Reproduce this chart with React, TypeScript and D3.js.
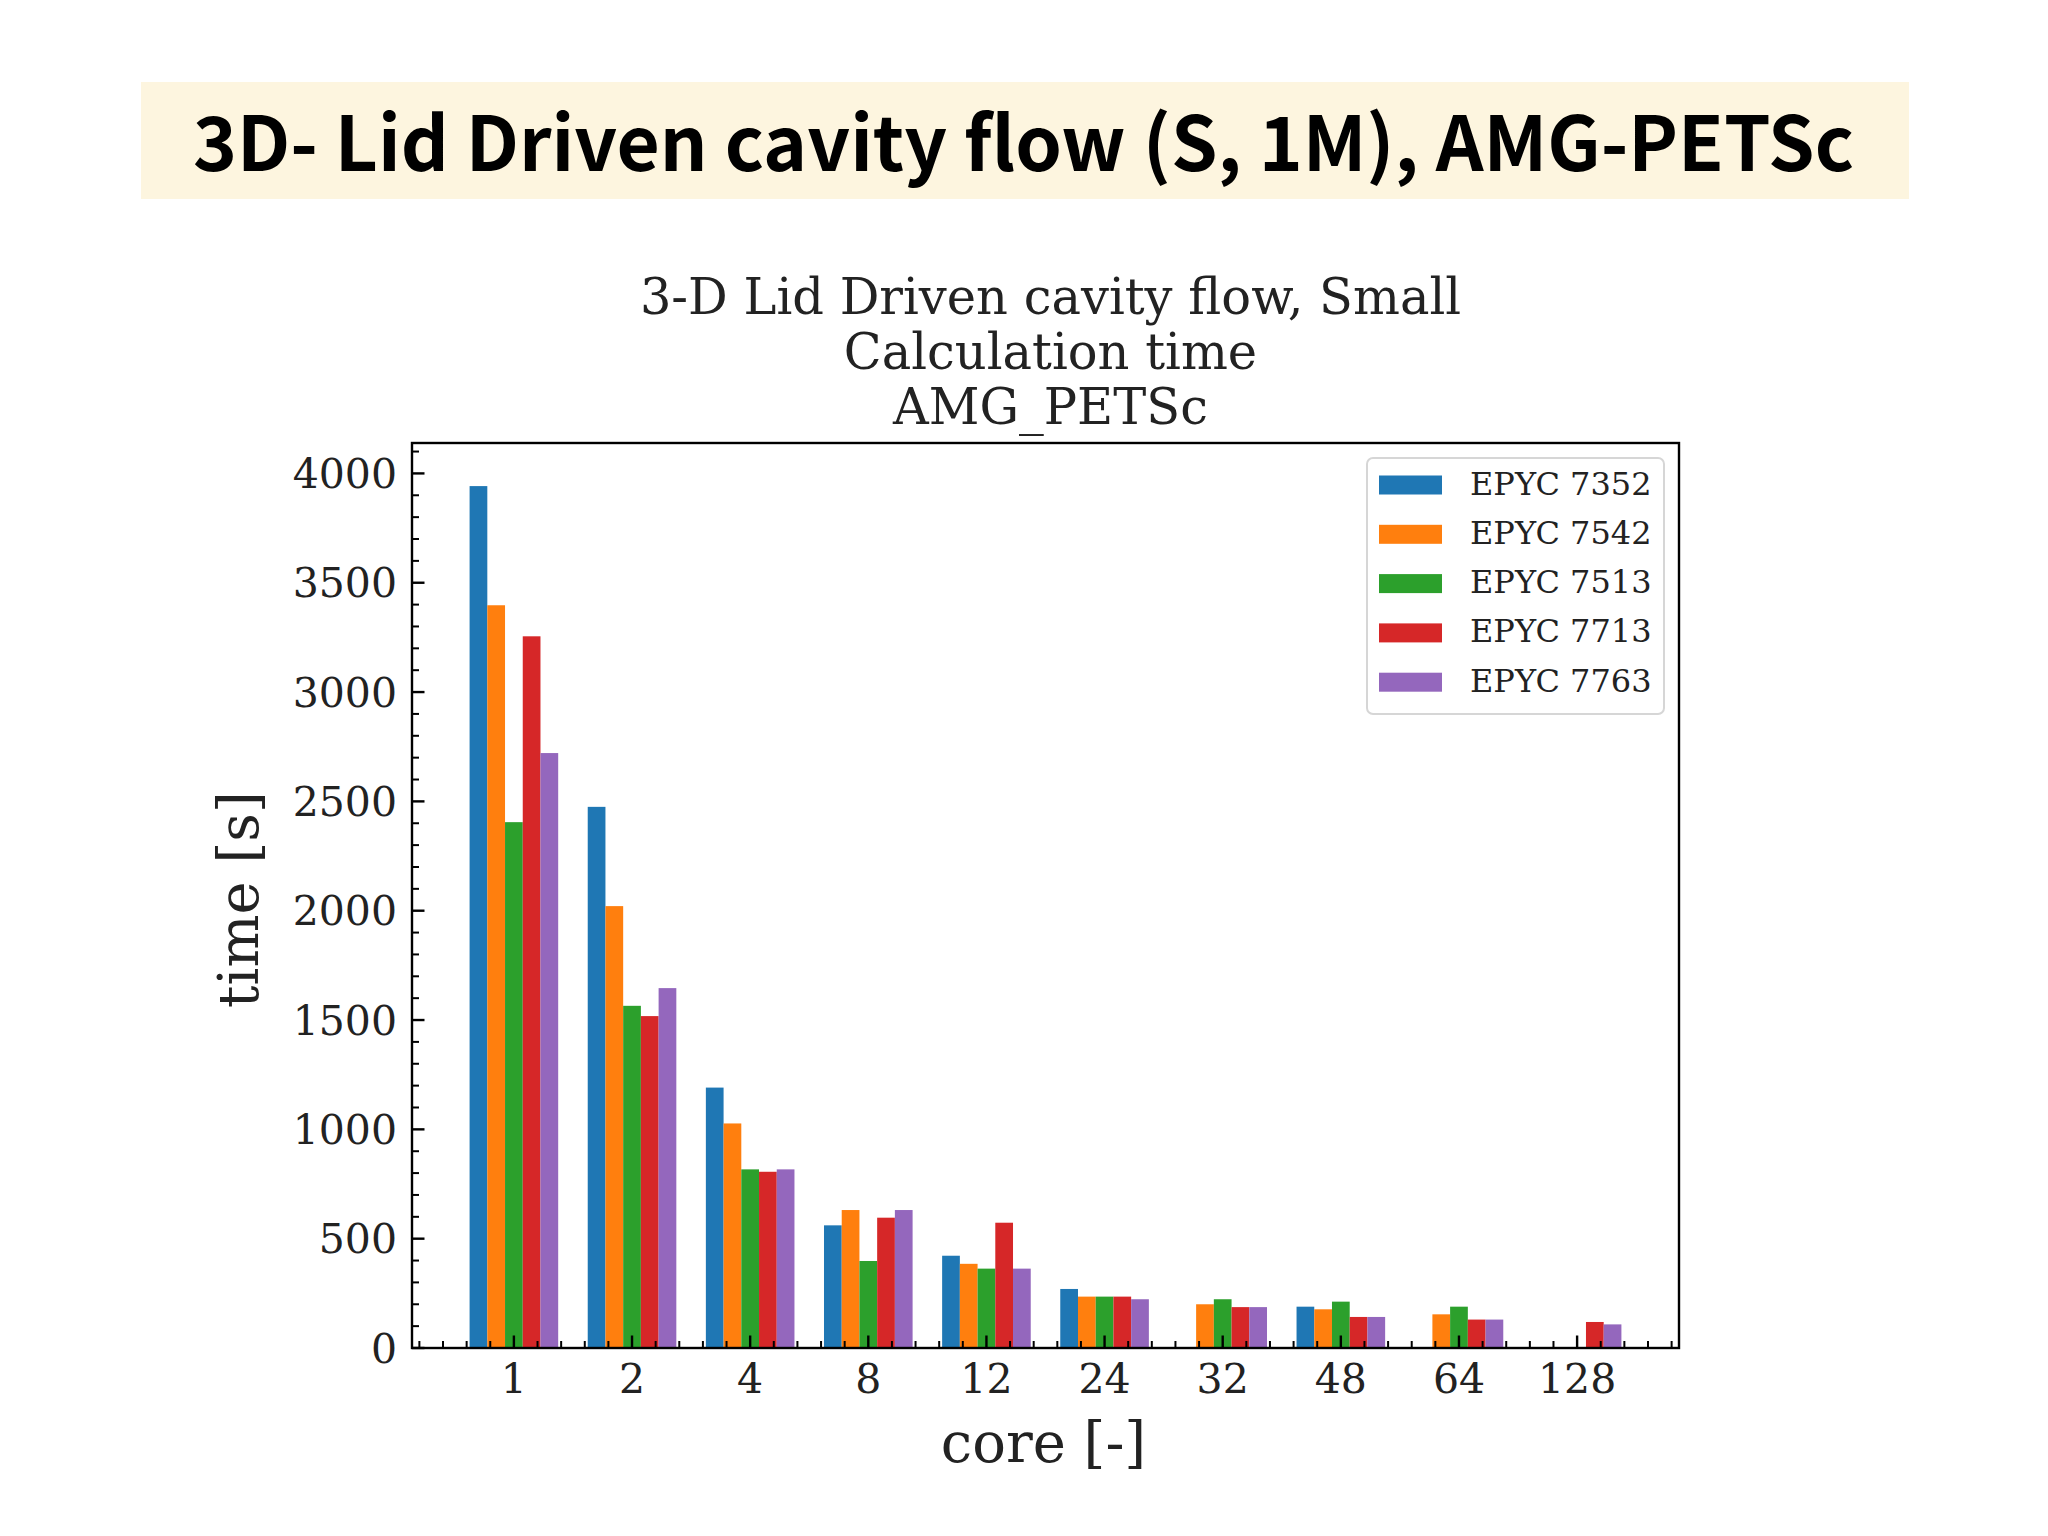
import React from "react";
import * as d3 from "d3";

const cores = ["1", "2", "4", "8", "12", "24", "32", "48", "64", "128"];
const seriesNames = ["EPYC 7352", "EPYC 7542", "EPYC 7513", "EPYC 7713", "EPYC 7763"];
const epyc7352 = [3942, 2475, 1191, 561, 422, 270, null, 189, null, null];
const epyc7542 = [3397, 2021, 1027, 631, 385, 235, 200, 177, 154, null];
const epyc7513 = [2405, 1565, 817, 398, 363, 235, 223, 212, 189, null];
const epyc7713 = [3255, 1518, 806, 596, 573, 235, 187, 142, 130, 119];
const epyc7763 = [2721, 1646, 817, 631, 363, 223, 187, 142, 130, 108];
const yTicks = [0, 500, 1000, 1500, 2000, 2500, 3000, 3500, 4000];
const colors = ["#1f77b4", "#ff7f0e", "#2ca02c", "#d62728", "#9467bd"];

const slideTitle = "3D- Lid Driven cavity flow (S, 1M), AMG-PETSc";
const chartTitle = ["3-D Lid Driven cavity flow, Small", "Calculation time", "AMG_PETSc"];

const series: (number | null)[][] = [epyc7352, epyc7542, epyc7513, epyc7713, epyc7763];

export default function App() {
  const W = 2048;
  const H = 1536;
  const left = 412;
  const right = 1679;
  const top = 443;
  const bottom = 1348;
  const barW = 0.15;
  const n = series.length;
  const lo = -((n - 1) / 2) * barW - barW / 2;
  const hi = cores.length - 1 - lo;
  const pad = (hi - lo) * 0.05;
  const x = d3.scaleLinear().domain([lo - pad, hi + pad]).range([left, right]);
  const allVals = series.flat().filter((v): v is number => v != null);
  const yMax = (d3.max(allVals) as number) * 1.05;
  const y = d3.scaleLinear().domain([0, yMax]).range([bottom, top]);

  const yMinor = d3.range(0, yMax, 100).filter((v) => v % 500 !== 0);
  const [xd0, xd1] = x.domain();
  const xMinor = d3
    .range(Math.ceil(xd0 / 0.2), Math.floor(xd1 / 0.2) + 1)
    .map((k) => k * 0.2)
    .filter((v) => Math.abs(v - Math.round(v)) > 1e-6);

  const serif = "'DejaVu Serif', serif";
  const cx = (left + right) / 2;

  const legX = right - 15 - 297;
  const legY = top + 15;

  return (
    <div style={{ position: "absolute", left: 0, top: 0 }}>
      <svg width={W} height={H} viewBox={`0 0 ${W} ${H}`} style={{ display: "block", background: "#fff" }}>
        <rect x={0} y={0} width={W} height={H} fill="#fff" />
        {/* slide title */}
        <rect x={141} y={82} width={1768} height={117} fill="#fdf5df" />
        <text
          x={193}
          y={171}
          fontFamily="'Noto Sans CJK JP', 'Noto Sans', sans-serif"
          fontWeight={700}
          fontSize={75}
          textLength={1661}
          lengthAdjust="spacingAndGlyphs"
          fill="#000"
        >
          {slideTitle}
        </text>

        {/* chart title */}
        {chartTitle.map((t, i) => (
          <text key={t} x={cx + 5} y={314 + i * 55} textAnchor="middle" fontFamily={serif} fontSize={49.5} fill="#222">
            {t}
          </text>
        ))}

        {/* bars */}
        {series.map((vals, j) =>
          vals.map((v, i) =>
            v == null ? null : (
              <rect
                key={`${j}-${i}`}
                x={x(i + (j - (n - 1) / 2) * barW - barW / 2)}
                y={y(v)}
                width={x(barW) - x(0)}
                height={y(0) - y(v)}
                fill={colors[j]}
              />
            )
          )
        )}

        {/* y ticks */}
        {yTicks.map((t) => (
          <g key={`yt${t}`}>
            <line x1={left} x2={left + 12.5} y1={y(t)} y2={y(t)} stroke="#000" strokeWidth={2.4} />
            <text x={left - 15} y={y(t)} dy="0.36em" textAnchor="end" fontFamily={serif} fontSize={41} fill="#222">
              {t}
            </text>
          </g>
        ))}
        {yMinor.map((t) => (
          <line key={`ym${t}`} x1={left} x2={left + 7} y1={y(t)} y2={y(t)} stroke="#000" strokeWidth={2} />
        ))}

        {/* x ticks */}
        {cores.map((c, i) => (
          <g key={`xt${c}`}>
            <line x1={x(i)} x2={x(i)} y1={bottom} y2={bottom - 12.5} stroke="#000" strokeWidth={2.4} />
            <text x={x(i)} y={bottom + 45} textAnchor="middle" fontFamily={serif} fontSize={41} fill="#222">
              {c}
            </text>
          </g>
        ))}
        {xMinor.map((t) => (
          <line key={`xm${t.toFixed(2)}`} x1={x(t)} x2={x(t)} y1={bottom} y2={bottom - 7} stroke="#000" strokeWidth={2} />
        ))}

        {/* frame */}
        <rect x={left} y={top} width={right - left} height={bottom - top} fill="none" stroke="#000" strokeWidth={2.4} />

        {/* axis labels */}
        <text x={cx - 2} y={1462} textAnchor="middle" fontFamily={serif} fontSize={56} fill="#222">
          core [-]
        </text>
        <text
          transform={`translate(258, ${(top + bottom) / 2 + 4}) rotate(-90)`}
          textAnchor="middle"
          fontFamily={serif}
          fontSize={56}
          fill="#222"
        >
          time [s]
        </text>

        {/* legend */}
        <g>
          <rect x={legX} y={legY} width={297} height={256} rx={6} fill="#fff" fillOpacity={0.8} stroke="#d6d6d6" strokeWidth={2} />
          {seriesNames.map((s, j) => (
            <g key={s}>
              <rect x={legX + 12} y={legY + 27 + j * 49.3 - 9.5} width={63} height={19} fill={colors[j]} />
              <text x={legX + 103} y={legY + 25 + j * 49.3} dy="0.36em" fontFamily={serif} fontSize={32} fill="#222">
                {s}
              </text>
            </g>
          ))}
        </g>
      </svg>
    </div>
  );
}
